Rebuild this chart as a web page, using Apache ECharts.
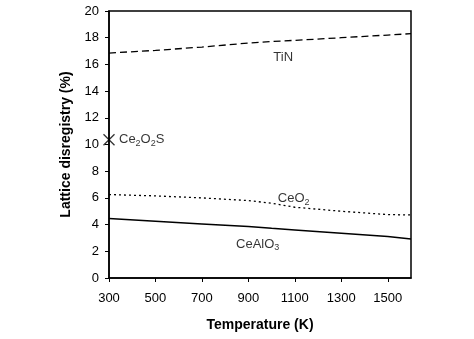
<!DOCTYPE html>
<html><head><meta charset="utf-8">
<script src="https://cdn.jsdelivr.net/npm/echarts@6/dist/echarts.min.js"></script>
<style>html,body{margin:0;padding:0;background:#fff}#c{width:474px;height:339px}</style>
</head><body><div id="c"></div>
<script>
var temps = [300, 500, 700, 900, 1000, 1100, 1300, 1500, 1600];
var tin = [16.85, 17.05, 17.3, 17.6, 17.72, 17.8, 18.0, 18.2, 18.3];
var ceo2 = [6.25, 6.15, 6.0, 5.8, 5.6, 5.3, 5.0, 4.75, 4.72];
var cealo3 = [4.45, 4.25, 4.05, 3.85, 3.72, 3.6, 3.35, 3.1, 2.92];
var ce2o2s = [[300, 10.35]];
var xTicks = [300, 500, 700, 900, 1100, 1300, 1500];
var labels = [
  {value: [1050, 16.55], text: 'TiN'},
  {value: [1095, 5.95], text: 'CeO{s|2}'},
  {value: [940, 2.55], text: 'CeAlO{s|3}'}
];
function pairs(ys){ return temps.map(function(t,i){ return [t, ys[i]]; }); }
var font = 'Liberation Sans, Arial, sans-serif';
var rich = {s: {fontSize: 9, fontFamily: font, color: '#000', padding: [7, 0, 0, 0]}};
var chart = echarts.init(document.getElementById('c'));
chart.setOption({
  animation: false,
  grid: {left: 109, right: 63, top: 11, bottom: 61, show: true, borderColor: '#000', borderWidth: 1.5},
  xAxis: {
    type: 'value', min: 300, max: 1600,
    name: 'Temperature (K)', nameLocation: 'middle', nameGap: 40,
    nameTextStyle: {fontFamily: font, fontSize: 14, fontWeight: 'bold', color: '#000'},
    axisLine: {lineStyle: {color: '#000', width: 1.5}},
    axisTick: {customValues: xTicks, length: 4, lineStyle: {color: '#000'}},
    axisLabel: {customValues: xTicks, fontFamily: font, fontSize: 13, color: '#000', margin: 14,
      formatter: function(v){ return String(v); }},
    splitLine: {show: false}
  },
  yAxis: {
    type: 'value', min: 0, max: 20, interval: 2,
    name: 'Lattice disregistry (%)', nameLocation: 'middle', nameGap: 36,
    nameTextStyle: {fontFamily: font, fontSize: 14, fontWeight: 'bold', color: '#000'},
    axisLine: {show: true, lineStyle: {color: '#000', width: 1.5}},
    axisTick: {show: true, length: 4, lineStyle: {color: '#000'}},
    axisLabel: {fontFamily: font, fontSize: 13, color: '#000', margin: 10},
    splitLine: {show: false}
  },
  series: [
    {type: 'line', data: pairs(tin), symbol: 'none', lineStyle: {color: '#000', width: 1.3, type: [7, 4]}},
    {type: 'line', data: pairs(ceo2), symbol: 'none', lineStyle: {color: '#000', width: 1.3, type: [2, 3]}},
    {type: 'line', data: pairs(cealo3), symbol: 'none', lineStyle: {color: '#000', width: 1.5}},
    {type: 'scatter', data: ce2o2s, symbol: 'path://M0,0L10,10M10,0L0,10', symbolSize: 11,
     itemStyle: {color: 'none', borderColor: '#000', borderWidth: 1.3},
     label: {show: true, position: 'right', distance: 2, formatter: 'Ce{s|2}O{s|2}S',
       fontFamily: font, fontSize: 13, color: '#000', rich: rich}},
    {type: 'scatter', symbolSize: 0, silent: true,
     data: labels.map(function(l){ return {value: l.value, label: {formatter: l.text}}; }),
     label: {show: true, position: 'inside', fontFamily: font, fontSize: 13, color: '#000', rich: rich}}
  ]
});
</script></body></html>
